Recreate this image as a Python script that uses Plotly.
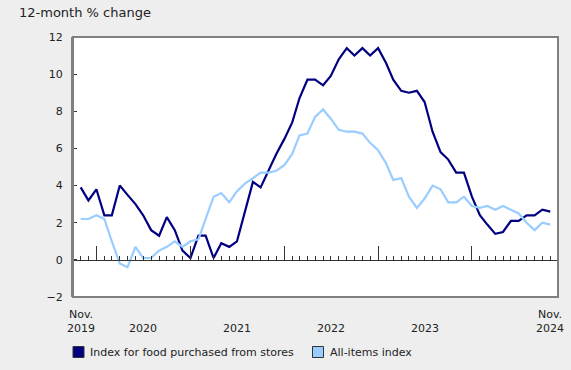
import pandas as pd
import plotly.graph_objects as go

# monthly, Nov 2019 to Nov 2024
months = pd.date_range('2019-11-01', '2024-11-01', freq='MS')

food_stores = [3.9, 3.2, 3.8, 2.4, 2.4, 4.0, 3.5, 3.0, 2.4, 1.6, 1.3, 2.3,
               1.6, 0.5, 0.1, 1.3, 1.3, 0.1, 0.9, 0.7, 1.0, 2.6, 4.2, 3.9,
               4.8, 5.7, 6.5, 7.4, 8.7, 9.7, 9.7, 9.4, 9.9, 10.8, 11.4, 11.0,
               11.4, 11.0, 11.4, 10.6, 9.7, 9.1, 9.0, 9.1, 8.5, 6.9, 5.8, 5.4,
               4.7, 4.7, 3.4, 2.4, 1.9, 1.4, 1.5, 2.1, 2.1, 2.4, 2.4, 2.7,
               2.6]

all_items = [2.2, 2.2, 2.4, 2.2, 1.0, -0.2, -0.4, 0.7, 0.1, 0.1, 0.5, 0.7,
             1.0, 0.7, 1.0, 1.1, 2.2, 3.4, 3.6, 3.1, 3.7, 4.1, 4.4, 4.7,
             4.7, 4.8, 5.1, 5.7, 6.7, 6.8, 7.7, 8.1, 7.6, 7.0, 6.9, 6.9,
             6.8, 6.3, 5.9, 5.2, 4.3, 4.4, 3.4, 2.8, 3.3, 4.0, 3.8, 3.1,
             3.1, 3.4, 2.9, 2.8, 2.9, 2.7, 2.9, 2.7, 2.5, 2.0, 1.6, 2.0,
             1.9]

# x-axis labels (placed mid-year, first/last month at the ends)
label_dates = ['2019-11-01', '2020-07-01', '2021-07-01', '2022-07-01', '2023-07-01', '2024-11-01']
label_texts = ['Nov.<br>2019', '2020', '2021', '2022', '2023', 'Nov.<br>2024']

series_names = ['Index for food purchased from stores', 'All-items index']
series_colors = ['#000080', '#99ccff']

fig = go.Figure()

fig.add_trace(go.Scatter(x=months, y=food_stores, mode='lines', name=series_names[0],
                         line=dict(color=series_colors[0], width=2.2)))
fig.add_trace(go.Scatter(x=months, y=all_items, mode='lines', name=series_names[1],
                         line=dict(color=series_colors[1], width=2.2)))

# plot area is 485 x 260 px (l=73, t=37)
PW, PH = 485, 260


def px(x):
    return (x - 73) / PW


def py(y):
    return (297 - y) / PH


annotations = []
for d, t in zip(label_dates, label_texts):
    two_lines = '<br>' in t
    annotations.append(dict(x=d, xref='x', y=py(321 if two_lines else 328), yref='paper',
                            text=t, showarrow=False, xanchor='center', yanchor='middle',
                            font=dict(size=11, color='#222')))

# legend drawn by hand: squares + text
shapes = [dict(type='rect', xref='paper', yref='paper', x0=0, y0=0, x1=1, y1=1,
               line=dict(color='#808080', width=2), layer='above')]
legend_x = [(73, 87.5), (312.5, 327.5)]
for (sx, tx), name, col in zip(legend_x, series_names, series_colors):
    shapes.append(dict(type='rect', xref='paper', yref='paper',
                       x0=px(sx), x1=px(sx + 11), y0=py(357.5), y1=py(346.5),
                       fillcolor=col, line=dict(color='#333', width=1)))
    annotations.append(dict(x=px(tx), xref='paper', y=py(352), yref='paper', text=name,
                            showarrow=False, xanchor='left', yanchor='middle',
                            font=dict(size=11, color='#222')))

fig.update_layout(
    width=571, height=370,
    margin=dict(l=73, r=13, t=37, b=73),
    paper_bgcolor='#eeeeee', plot_bgcolor='white',
    showlegend=False,
    font=dict(family='DejaVu Sans', size=11, color='#222'),
    title=dict(text='12-month % change', x=19 / 571, xref='container', xanchor='left',
               y=1 - 12.5 / 370, yref='container', yanchor='middle',
               font=dict(size=13, color='#222')),
    xaxis=dict(type='date', range=['2019-10-02', '2024-12-01'], anchor='free', position=2 / 14,
               showline=True, linecolor='#333', linewidth=1, showgrid=False, zeroline=False,
               ticks='inside', tickmode='linear', tick0='2020-01-01', dtick='M12',
               ticklen=14, tickcolor='#333', tickwidth=1, showticklabels=False,
               minor=dict(ticks='inside', ticklen=4, tickcolor='#333', dtick='M1',
                          tick0='2019-11-01', showgrid=False),
               fixedrange=True),
    yaxis=dict(range=[-2, 12], tick0=0, dtick=2, showgrid=False, zeroline=False,
               showline=True, linecolor='#808080', linewidth=2,
               ticks='inside', ticklen=4, tickcolor='#333', ticklabelstandoff=6,
               tickfont=dict(size=11, color='#222'), fixedrange=True),
    shapes=shapes,
    annotations=annotations,
)

# drop the browser's default body margin so the figure sits at (0, 0)
fig.write_html("out.html", config={'displayModeBar': False},
               post_script="document.body.style.margin='0';")
